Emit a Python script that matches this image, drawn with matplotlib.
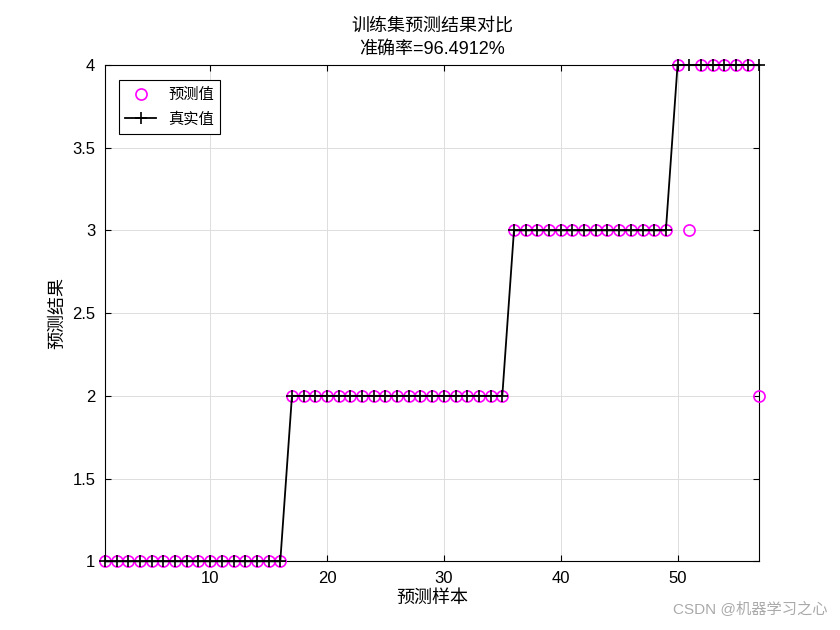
import matplotlib
matplotlib.use("Agg")
import matplotlib.pyplot as plt
import numpy as np

plt.rcParams['font.family'] = ['Liberation Sans', 'Noto Sans CJK SC', 'DejaVu Sans']

true_vals = [1]*16 + [2]*19 + [3]*14 + [4]*8
pred_vals = [1]*16 + [2]*19 + [3]*14 + [4, 3, 4, 4, 4, 4, 4, 2]
x = np.arange(1, len(true_vals) + 1)
acc = sum(p == t for p, t in zip(pred_vals, true_vals)) / len(true_vals) * 100

fig = plt.figure(figsize=(8.4, 6.3), dpi=100)
ax = fig.add_axes([0.125, 0.109, 0.779, 0.788])
ax.plot(x, pred_vals, 'o', color='magenta', mfc='none', markersize=8, mew=1.2, label='预测值', clip_on=False, zorder=3)
ax.plot(x, true_vals, '-+', color='black', markersize=9, mew=1.2, lw=1.3, label='真实值', clip_on=False, zorder=4)
ax.set_xlim(1, 57)
ax.set_ylim(1, 4)
ax.set_xticks([10, 20, 30, 40, 50])
ax.set_yticks([1, 1.5, 2, 2.5, 3, 3.5, 4])
ax.set_yticklabels(['1', '1.5', '2', '2.5', '3', '3.5', '4'])
ax.tick_params(labelsize=12, direction='in', length=4, top=True, right=True, pad=7)
ax.grid(True, color='#dddddd', lw=0.7)
ax.set_axisbelow(True)
ax.set_xlabel('预测样本', fontsize=13, family=['Noto Sans CJK SC'], labelpad=2)
ax.set_ylabel('预测结果', fontsize=13, family=['Noto Sans CJK SC'])
ax.set_title('训练集预测结果对比\n准确率=%.4f%%' % acc, fontsize=13, linespacing=1.5, pad=8)
leg = ax.legend(loc='upper left', fancybox=False, edgecolor='black',
                framealpha=1, bbox_to_anchor=(0.01, 0.985), prop={'family': ['Noto Sans CJK SC'], 'size': 11})
leg.get_frame().set_linewidth(0.8)
fig.text(0.985, 0.02, 'CSDN @机器学习之心', ha='right', va='bottom', fontsize=11, color='#aaaaaa')
fig.savefig('out.png', dpi=100)
